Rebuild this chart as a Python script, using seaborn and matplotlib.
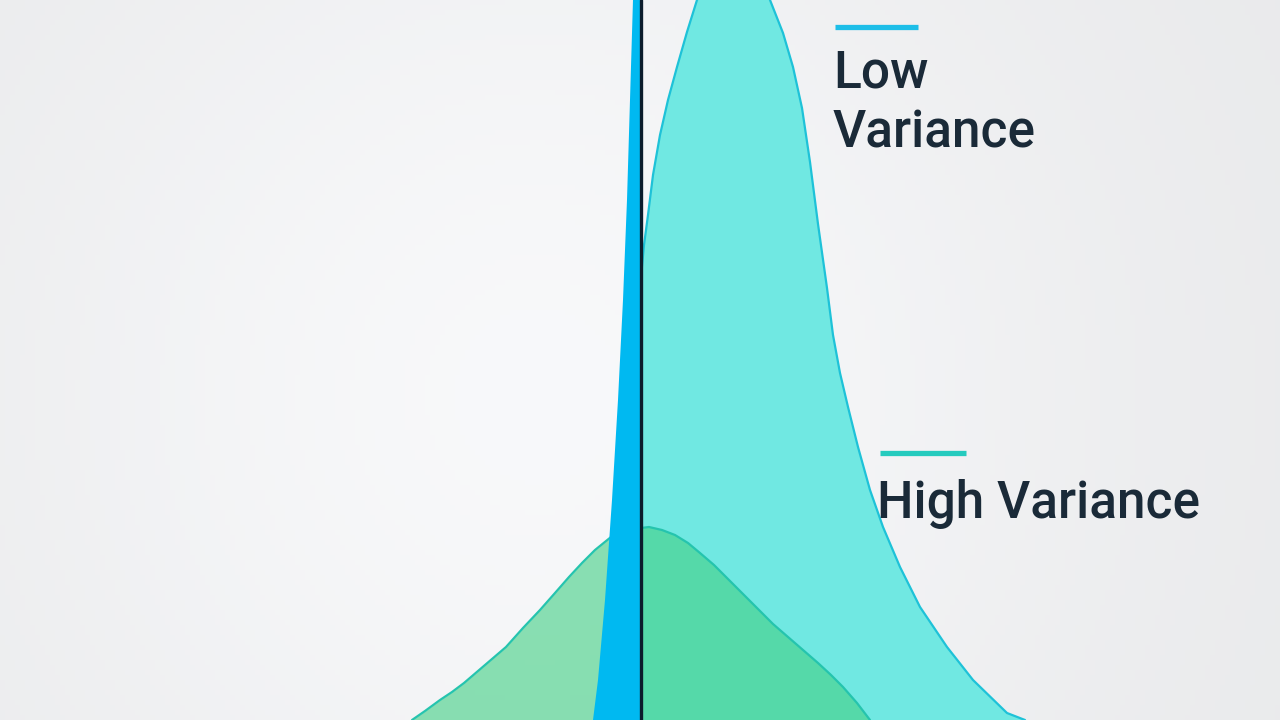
import numpy as np
import matplotlib
matplotlib.use("Agg")
import matplotlib.pyplot as plt
import seaborn as sns

low_x = [641, 644, 648, 653, 660, 668, 677, 687, 697, 708, 720, 733, 746, 758, 770, 783,
         793, 802, 810, 818, 827, 833, 840, 848, 858, 870, 883, 900, 920, 947, 973, 1007, 1025]
low_h = [443, 475, 505, 545, 585, 620, 653, 688, 720, 742, 758, 765, 762, 748, 720, 687,
         653, 612, 558, 496, 432, 385, 347, 313, 273, 230, 193, 153, 113, 73, 40, 7, 0]

high_x = [412, 425, 440, 452, 464, 485, 506, 523, 540, 555, 569, 582, 595, 611, 626, 641, 649,
          662, 675, 688, 700, 714, 729, 744, 759, 773, 788, 803, 818, 831, 843, 857, 870]
high_h = [0, 9, 20, 28, 37, 55, 73, 92, 110, 127, 143, 157, 170, 183, 190, 192, 193,
          190, 185, 177, 167, 155, 140, 125, 110, 96, 83, 70, 57, 45, 33, 17, 0]

spike_h = [0, 40, 120, 220, 320, 420, 520, 620, 720]
spike_left = [593, 598, 605, 612, 618, 623, 627, 630, 633]
spike_right = 641
mean_x = 641

labels = ["Low", "Variance", "High Variance"]

sns.set_theme(style="white")
plt.rcParams['font.family'] = ['Roboto', 'DejaVu Sans']

fig = plt.figure(figsize=(12.8, 7.2), dpi=100)
ax = fig.add_axes([0, 0, 1, 1])
ax.set_xlim(0, 1280)
ax.set_ylim(0, 720)
ax.axis("off")

# soft light-grey background, brightest a bit left of centre
gx = np.linspace(0, 1, 256)
gy = np.linspace(0, 1, 144)
X, Y = np.meshgrid(gx, gy)
glow = np.exp(-((X - 0.42) ** 2) / 0.2 - ((Y - 0.55) ** 2) / 0.7)
shade = 0.91 + 0.062 * glow
bg = np.dstack([shade * 1.0, shade * 1.003, shade * 1.01])
ax.imshow(np.clip(bg, 0, 1), extent=[0, 1280, 0, 720], aspect="auto", zorder=0)

# low variance curve (cut at the mean line)
ax.fill_between(low_x, low_h, 0, color="#70E8E2", zorder=1, lw=0)
sns.lineplot(x=low_x, y=low_h, ax=ax, color="#1EC2D8", lw=1.6, zorder=2, sort=False)

# high variance curve
ax.fill_between(high_x, high_h, 0, color="#45D087", alpha=0.62, zorder=3, lw=0)
sns.lineplot(x=high_x, y=high_h, ax=ax, color="#25C4AE", lw=1.6, zorder=4, sort=False)

# narrow blue spike left of the mean
ax.fill_betweenx(spike_h, spike_left, spike_right, color="#00B9F1", zorder=5, lw=0)

# mean line
ax.axvline(mean_x, color="#0B1C2C", lw=2.4, zorder=6)

# labels
txt = dict(color="#1A2A38", va="baseline", ha="left", zorder=7, fontweight="medium")
ax.plot([835, 918], [693, 693], color="#1DBEE8", lw=3.8, solid_capstyle="butt", zorder=7)
ax.text(833, 632, labels[0], fontsize=37, **txt)
ax.text(833, 572, labels[1], fontsize=37, **txt)

ax.plot([880, 966], [267, 267], color="#25CBBE", lw=3.8, solid_capstyle="butt", zorder=7)
ax.text(877, 202, labels[2], fontsize=37, **txt)

fig.savefig("out.png", dpi=100)
